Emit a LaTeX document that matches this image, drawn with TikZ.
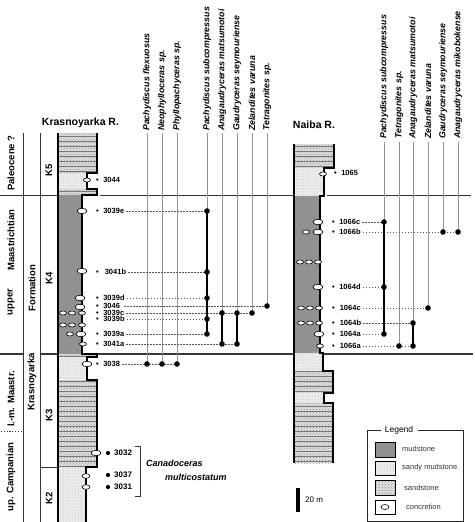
\documentclass[tikz,border=0pt]{standalone}
\usepackage{fontspec}
\setmainfont{Liberation Sans}
\usetikzlibrary{patterns,shapes.geometric}
\definecolor{mud}{RGB}{145,145,145}
\definecolor{bnd}{RGB}{55,55,55}
\definecolor{spl}{RGB}{150,150,150}
\definecolor{dsh}{RGB}{85,85,85}
\definecolor{hatchc}{RGB}{120,120,120}
\definecolor{sandybg}{RGB}{236,236,236}
\definecolor{sandbg}{RGB}{222,222,222}
\tikzset{
  chrono/.style={rotate=90, font=\bfseries\fontsize{9.5}{10}\selectfont, inner sep=0pt},
  spname/.style={rotate=90, anchor=west, font=\bfseries\itshape\fontsize{8.8}{9}\selectfont, inner sep=0pt},
  samp/.style={anchor=west, font=\bfseries\fontsize{7.5}{8}\selectfont, inner sep=0pt},
  bigsamp/.style={anchor=west, font=\bfseries\fontsize{8}{9}\selectfont, inner sep=0pt},
  titletext/.style={font=\bfseries\fontsize{10.5}{11}\selectfont, inner sep=0pt},
  legtext/.style={anchor=west, font=\fontsize{7.5}{8}\selectfont, text=black!80, inner sep=0pt},
  spline/.style={draw=spl, line width=0.7pt},
  fossil/.style={circle, fill=black, inner sep=0pt, minimum size=5.6pt},
  bigdot/.style={circle, fill=black, inner sep=0pt, minimum size=4.2pt},
  link/.style={draw=dsh, line width=0.5pt, dash pattern=on 1.6pt off 1.4pt},
  rangeline/.style={draw=black, line width=1.6pt},
  conc/.style={ellipse, draw=black, fill=white, line width=0.6pt, inner sep=0pt},
  bigc/.style={conc, minimum width=10pt, minimum height=5.4pt},
  smallc/.style={conc, minimum width=7pt, minimum height=4pt},
  bline/.style={draw=bnd, line width=0.9pt},
  bthick/.style={draw=bnd, line width=1.3pt},
  profile/.style={draw=black, line width=1.5pt, line join=miter},
  mudfill/.style={fill=mud},
  sandyfill/.style={fill=sandybg, postaction={pattern=dots, pattern color=gray!70}},
  sandfill/.style={fill=sandbg, postaction={pattern=crosshatch dots, pattern color=gray!85}},
  hatchline/.style={draw=hatchc, line width=0.45pt},
}
\newcommand\sandseg[4]{%
  \fill[sandfill] (#1,#3) rectangle (#2,#4);
  \begin{scope}
    \clip (#1,#3) rectangle (#2,#4);
    \foreach \yy in {131,136,...,526} \draw[hatchline] (#1,\yy) -- (#2,\yy);
  \end{scope}}
\newcommand\sandyseg[4]{\fill[sandyfill] (#1,#3) rectangle (#2,#4);}
\newcommand\mudseg[4]{\fill[mudfill] (#1,#3) rectangle (#2,#4);}
\begin{document}
\begin{tikzpicture}[x=1pt,y=-1pt]
\useasboundingbox (0,0) rectangle (474,522);

% ---------- chronostratigraphy columns ----------
\draw[bline] (23,133) -- (23,522);
\draw[bline] (40,133) -- (40,522);
\draw[bline] (0,195) -- (58,195);
\draw[bthick] (0,354) -- (23,354);
\draw[bthick] (40,354) -- (58,354);
\draw[bline] (40,467) -- (58,467);
\draw[bnd, line width=0.8pt, dash pattern=on 1.2pt off 1.6pt] (1,431) -- (22,431);

\node[chrono] (paleo) at (11,163) {Paleocene ?};
\node[chrono] (maas) at (11,240) {Maastrichtian};
\node[chrono] (upper) at (11,302) {upper};
\node[chrono] (lmm) at (11,399) {l.-m. Maastr.};
\node[chrono] (upc) at (11,477) {up. Campanian};
\node[chrono] (form) at (32,288) {Formation};
\node[chrono] (kras) at (32,382) {Krasnoyarka};
\node[chrono] (k5) at (49,170) {K5};
\node[chrono] (k4) at (49,278) {K4};
\node[chrono] (k3) at (49,415) {K3};
\node[chrono] (k2) at (49,498) {K2};

% ---------- titles ----------
\node[titletext] (ktitle) at (80.5,123) {Krasnoyarka R.};
\node[titletext] (ntitle) at (314,125) {Naiba R.};

% ---------- boundary lines between columns ----------
\draw[bline] (100,195) -- (294,195);
\draw[bline] (327,195) -- (471,195);
\draw[bthick] (97,354) -- (294,354);
\draw[bthick] (323,354) -- (473,354);

% ---------- Krasnoyarka lithology column ----------
\sandseg{58}{97}{133}{173}
\sandyseg{58}{87}{173}{189}
\sandseg{58}{97}{189}{195}
\mudseg{58}{82}{195}{354}
\sandseg{58}{97}{354}{357}
\sandyseg{58}{87}{357}{380}
\sandseg{58}{97}{380}{467}
\sandyseg{58}{86}{467}{522}
\draw[profile] (58,133) -- (58,522);
\draw[profile] (97,133) -- (97,173) -- (87,173) -- (87,189) -- (97,189) -- (97,195)
  -- (82,195) -- (82,354) -- (97,354) -- (97,357) -- (87,357) -- (87,380)
  -- (97,380) -- (97,467) -- (86,467) -- (86,522);

% ---------- Naiba lithology column ----------
\sandseg{294}{334}{144}{168}
\sandyseg{294}{324}{168}{196}
\mudseg{294}{320}{196}{353}
\sandyseg{294}{323}{353}{371}
\sandseg{294}{333}{371}{393}
\sandyseg{294}{324}{393}{403}
\sandseg{294}{333}{403}{463}
\draw[profile] (294,144) -- (294,463);
\draw[profile] (334,144) -- (334,168) -- (324,168) -- (324,196) -- (320,196)
  -- (320,353) -- (323,353) -- (323,371) -- (333,371) -- (333,393)
  -- (324,393) -- (324,403) -- (333,403) -- (333,463);

% ---------- concretions ----------
\foreach \cx/\cy/\cs [count=\i] in {87/180/smallc, 82/211/bigc, 82/271/bigc, 80/298/bigc,
  80/307/bigc, 63/313/smallc, 72/313/smallc, 82/313/smallc, 63/325/smallc, 72/325/smallc,
  82/325/smallc, 70/334/smallc, 81/334/bigc, 83/344/smallc, 87/364/bigc, 96/453/bigc}
  \node[\cs] (kc\i) at (\cx,\cy) {};
\node[smallc, minimum width=8pt, minimum height=4.6pt] (kc17) at (86,476) {};
\node[smallc, minimum width=8pt, minimum height=4.6pt] (kc18) at (86,487) {};
\foreach \cx/\cy/\cs [count=\i] in {323/174/smallc, 318/222/bigc, 306/232/smallc, 318/232/bigc,
  300/262/smallc, 309/262/smallc, 318/262/smallc, 318/287/bigc,
  301/308/smallc, 310/308/smallc, 319/308/smallc,
  301/323/smallc, 310/323/smallc, 319/323/smallc, 319/334/bigc, 320/346/smallc}
  \node[\cs] (nc\i) at (\cx,\cy) {};

% ---------- Krasnoyarka species ----------
\node[spname] (ks1) at (147,131) {Pachydiscus flexuosus};
\node[spname] (ks2) at (162,131) {Neophylloceras sp.};
\node[spname] (ks3) at (177,131) {Phyllopachyceras sp.};
\node[spname] (ks4) at (207,131) {Pachydiscus subcompressus};
\node[spname] (ks5) at (222,131) {Anagaudryceras matsumotoi};
\node[spname] (ks6) at (237,131) {Gaudryceras seymouriense};
\node[spname] (ks7) at (252,131) {Zelandites varuna};
\node[spname] (ks8) at (267,131) {Tetragonites sp.};

% sample labels
\node[samp] (l3044) at (96,180) {•\hspace{4.5pt}3044};
\node[samp] (l3039e) at (96,211) {•\hspace{4.5pt}3039e};
\node[samp] (l3041b) at (96,272) {•\hspace{6pt}3041b};
\node[samp] (l3039d) at (96,298) {•\hspace{4.5pt}3039d};
\node[samp] (l3046) at (96,306) {•\hspace{4.5pt}3046};
\node[samp] (l3039c) at (96,313) {•\hspace{4.5pt}3039c};
\node[samp] (l3039b) at (96,319) {•\hspace{4.5pt}3039b};
\node[samp] (l3039a) at (96,334) {•\hspace{4.5pt}3039a};
\node[samp] (l3041a) at (96,344) {•\hspace{4.5pt}3041a};
\node[samp] (l3038) at (96,364) {•\hspace{4.5pt}3038};

% fossil dots (coordinates)
\coordinate (kd1) at (207,211);
\coordinate (kd2) at (207,272);
\coordinate (kd3) at (207,298);
\coordinate (kd4) at (267,306);
\coordinate (kd5) at (222,313);
\coordinate (kd6) at (237,313);
\coordinate (kd7) at (252,313);
\coordinate (kd8) at (207,319);
\coordinate (kd9) at (207,334);
\coordinate (kd10) at (222,344);
\coordinate (kd11) at (237,344);
\coordinate (kd12) at (147,364);
\coordinate (kd13) at (162,364);
\coordinate (kd14) at (177,364);

% species lines
\draw[spline] ([yshift=-2pt]ks1.west) -- (kd12);
\draw[spline] ([yshift=-2pt]ks2.west) -- (kd13);
\draw[spline] ([yshift=-2pt]ks3.west) -- (kd14);
\draw[spline] ([yshift=-2pt]ks4.west) -- (kd9);
\draw[spline] ([yshift=-2pt]ks5.west) -- (kd10);
\draw[spline] ([yshift=-2pt]ks6.west) -- (kd11);
\draw[spline] ([yshift=-2pt]ks7.west) -- (kd7);
\draw[spline] ([yshift=-2pt]ks8.west) -- (kd4);

% links
\draw[link] ([xshift=2pt]l3039e.east) -- (kd1);
\draw[link] ([xshift=2pt]l3041b.east) -- (kd2);
\draw[link] ([xshift=2pt]l3039d.east) -- (kd3);
\draw[link] ([xshift=4pt]l3046.east) -- (kd4);
\draw[link] ([xshift=2pt]l3039c.east) -- (kd7);
\draw[link] ([xshift=2pt]l3039b.east) -- (kd8);
\draw[link] ([xshift=2pt]l3039a.east) -- (kd9);
\draw[link] ([xshift=2pt]l3041a.east) -- (kd11);
\draw[link] ([xshift=2pt]l3038.east) -- (kd14);

% ranges
\draw[rangeline] (kd1) -- (kd9);
\draw[rangeline] (kd5) -- (kd10);
\draw[rangeline] (kd6) -- (kd11);
\foreach \i in {1,...,14} \node[fossil] (kf\i) at (kd\i) {};

% Canadoceras group
\node[bigdot] (b3032) at (108,453) {};
\node[bigdot] (b3037) at (108,475) {};
\node[bigdot] (b3031) at (108,487) {};
\node[bigsamp] (l3032) at (114,453) {3032};
\node[bigsamp] (l3037) at (114,475) {3037};
\node[bigsamp] (l3031) at (114,487) {3031};
\coordinate (brt) at (135,446);
\coordinate (brb) at (135,496);
\draw[black!80, line width=0.8pt] (brt) -- ++(5,0) |- (brb);
\node[anchor=west, font=\bfseries\itshape\fontsize{9}{10}\selectfont, inner sep=0pt] (can1) at (146,463) {Canadoceras};
\node[anchor=west, font=\bfseries\itshape\fontsize{9}{10}\selectfont, inner sep=0pt] (can2) at (165,477) {multicostatum};

% ---------- Naiba species ----------
\node[spname] (ns1) at (384,139) {Pachydiscus subcompressus};
\node[spname] (ns2) at (399,139) {Tetragonites sp.};
\node[spname] (ns3) at (413,139) {Anagaudryceras matsumotoi};
\node[spname] (ns4) at (428,139) {Zelandites varuna};
\node[spname] (ns5) at (443,139) {Gaudryceras seymouriense};
\node[spname] (ns6) at (458,139) {Anagaudryceras mikobokense};

\node[samp] (l1065) at (334,173) {•\hspace{4.5pt}1065};
\node[samp] (l1066c) at (332,222) {•\hspace{4.5pt}1066c};
\node[samp] (l1066b) at (332,232) {•\hspace{4.5pt}1066b};
\node[samp] (l1064d) at (332,287) {•\hspace{4.5pt}1064d};
\node[samp] (l1064c) at (332,308) {•\hspace{5pt}1064c};
\node[samp] (l1064b) at (332,323) {•\hspace{5pt}1064b};
\node[samp] (l1064a) at (332,334) {•\hspace{5pt}1064a};
\node[samp] (l1066a) at (332,346) {•\hspace{5pt}1066a};

\coordinate (nd1) at (384,222);
\coordinate (nd2) at (443,232);
\coordinate (nd3) at (458,232);
\coordinate (nd4) at (384,287);
\coordinate (nd5) at (428,308);
\coordinate (nd6) at (413,323);
\coordinate (nd7) at (384,334);
\coordinate (nd8) at (399,346);
\coordinate (nd9) at (413,346);

\draw[spline] ([yshift=-3pt]ns1.west) -- (nd7);
\draw[spline] ([yshift=-3pt]ns2.west) -- (nd8);
\draw[spline] ([yshift=-3pt]ns3.west) -- (nd9);
\draw[spline] ([yshift=-3pt]ns4.west) -- (nd5);
\draw[spline] ([yshift=-3pt]ns5.west) -- (nd2);
\draw[spline] ([yshift=-3pt]ns6.west) -- (nd3);

\draw[link] ([xshift=2pt]l1066c.east) -- (nd1);
\draw[link] ([xshift=2pt]l1066b.east) -- (nd3);
\draw[link] ([xshift=2pt]l1064d.east) -- (nd4);
\draw[link] ([xshift=2pt]l1064c.east) -- (nd5);
\draw[link] ([xshift=2pt]l1064b.east) -- (nd6);
\draw[link] ([xshift=2pt]l1064a.east) -- (nd7);
\draw[link] ([xshift=2pt]l1066a.east) -- (nd9);

\draw[rangeline] (nd1) -- (nd7);
\draw[rangeline] (nd6) -- (nd9);
\foreach \i in {1,...,9} \node[fossil] (nf\i) at (nd\i) {};

% ---------- scale bar ----------
\fill[black] (296,488) rectangle (299.5,512);
\node[anchor=west, font=\fontsize{8}{9}\selectfont, inner sep=0pt] (scale) at (305,500) {20 m};

% ---------- legend ----------
\draw[black!85, line width=0.7pt] (381,430) -- (367,430) -- (367,521) -- (463,521) -- (463,430) -- (418,430);
\node[font=\fontsize{8.5}{9}\selectfont, inner sep=0pt] (legtitle) at (399,430) {Legend};
\draw[black, line width=0.6pt, fill=mud] (375,442) rectangle (395,457);
\fill[sandyfill] (375,461) rectangle (395,475);
\draw[black, line width=0.6pt] (375,461) rectangle (395,475);
\fill[sandfill] (375,480) rectangle (395,495);
\draw[black, line width=0.6pt] (375,480) rectangle (395,495);
\draw[black, line width=0.6pt] (375,500) rectangle (395,514);
\node[smallc, minimum width=8pt, minimum height=5pt] (legc) at (385,507) {};
\node[legtext] (lg1) at (402,449) {mudstone};
\node[legtext] (lg2) at (402,468) {sandy mudstone};
\node[legtext] (lg3) at (404,488) {sandstone};
\node[legtext] (lg4) at (406,507) {concretion};
\end{tikzpicture}
\end{document}
